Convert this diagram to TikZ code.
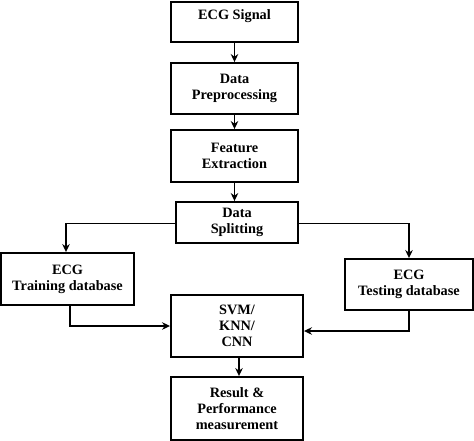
\documentclass[tikz,border=0pt]{standalone}
\usepackage{fontspec}
\setmainfont{Liberation Serif}
\usetikzlibrary{arrows.meta}
\usetikzlibrary{calc}

\tikzset{
    stagebox/.style={draw, line width=1.9pt, rectangle, align=center, inner sep=0pt,
        font=\bfseries\fontsize{14.3}{16}\selectfont},
    flowarrow/.style={line width=1.8pt, -{Stealth[length=8pt, width=7.5pt]}}
}

\begin{document}
\begin{tikzpicture}[x=1pt, y=-1pt]
        \useasboundingbox (0, 0) rectangle (474, 440);

        % Main pipeline boxes
        \node[stagebox, minimum width=127pt, anchor=north, text height=18pt, text depth=22pt] (sig) at (234.5, 1) {ECG Signal};
        \node[stagebox, minimum width=127pt, minimum height=51pt] (pre) at (234.5, 88.5) {Data\\Preprocessing};
        \node[stagebox, minimum width=127pt, minimum height=52pt] (feat) at (234.5, 156) {Feature\\Extraction};
        \node[stagebox, minimum width=122pt, minimum height=41pt] (split) at (237, 222.5) {Data\\Splitting};

        % Databases
        \node[stagebox, minimum width=133pt, minimum height=52pt] (train) at (67.5, 279) {ECG\\Training database};
        \node[stagebox, minimum width=128pt, minimum height=51pt] (test) at (409, 284.5) {ECG\\Testing database};

        % Classifier and result
        \node[stagebox, minimum width=132pt, minimum height=62pt] (clf) at (237, 326) {SVM/\\KNN/\\CNN};
        \node[stagebox, minimum width=132pt, minimum height=63pt] (res) at (237, 408.5) {Result \&\\Performance\\measurement};

        % Arrows along the pipeline
        \draw[flowarrow] (sig) -- (pre);
        \draw[flowarrow] (pre) -- (feat);
        \draw[flowarrow] (feat.south) -- (feat.south |- split.north);

        % Split into training and testing
        \draw[flowarrow] ([yshift=-1pt]split.west) -| ([xshift=-1.5pt]train.north);
        \draw[flowarrow] ([yshift=-1pt]split.east) -| (test.north);

        % Into the classifier
        \draw[flowarrow] ([xshift=2.5pt]train.south) |- (clf.west);
        \draw[flowarrow] (test.south) |- ([yshift=-5pt]clf.east);
        \draw[flowarrow] ([xshift=2pt]clf.south) -- ([xshift=2pt]res.north);
    \end{tikzpicture}
\end{document}
